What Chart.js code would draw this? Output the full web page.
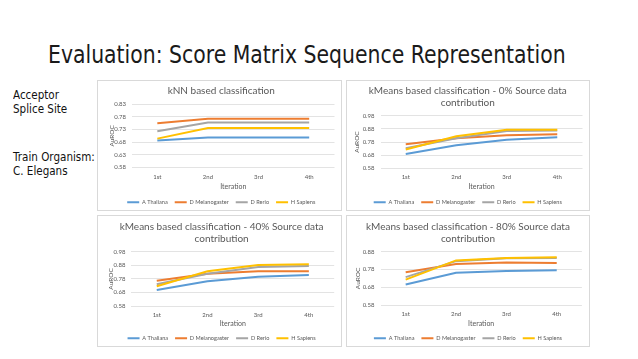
<!DOCTYPE html>
<html>
<head>
<meta charset="utf-8">
<script src="https://cdn.jsdelivr.net/npm/chart.js@4.4.1/dist/chart.umd.min.js"></script>
<style>
html,body{margin:0;padding:0;background:#fff;width:638px;height:359px;overflow:hidden;}
#title{position:absolute;left:48px;top:40px;font-family:"DejaVu Sans",sans-serif;font-size:24px;color:#1a1a1a;white-space:nowrap;line-height:30px;display:inline-block;transform-origin:0 0;}
.side{position:absolute;left:13px;font-family:"DejaVu Sans",sans-serif;font-size:12.5px;line-height:14px;color:#111;white-space:nowrap;transform:scaleX(0.83);transform-origin:0 0;}
.panel{position:absolute;border:1px solid #d9d9d9;box-sizing:border-box;background:#fff;}
canvas{position:absolute;}
</style>
</head>
<body>
<div id="title">Evaluation: Score Matrix Sequence Representation</div>
<div class="side" style="top:88px">Acceptor<br>Splice Site</div>
<div class="side" style="top:150px">Train Organism:<br>C. Elegans</div>

<div class="panel" style="left:97px;top:80px;width:245px;height:131px"></div>
<div class="panel" style="left:346px;top:80px;width:244px;height:131px"></div>
<div class="panel" style="left:97px;top:215px;width:245px;height:132px"></div>
<div class="panel" style="left:346px;top:215px;width:244px;height:132px"></div>

<canvas id="c1"></canvas>
<canvas id="c2"></canvas>
<canvas id="c3"></canvas>
<canvas id="c4"></canvas>

<script>
// ---- data ----
const categories = ['1st', '2nd', '3rd', '4th'];
const seriesNames = ['A Thaliana', 'D Melanogaster', 'D Rerio', 'H Sapiens'];

// kNN based classification
const knnAThaliana     = [0.687, 0.698, 0.698, 0.698];
const knnDMelanogaster = [0.755, 0.773, 0.773, 0.773];
const knnDRerio        = [0.723, 0.758, 0.758, 0.758];
const knnHSapiens      = [0.694, 0.736, 0.736, 0.736];

// kMeans 0% source data contribution
const km0AThaliana     = [0.690, 0.755, 0.797, 0.816];
const km0DMelanogaster = [0.763, 0.808, 0.832, 0.840];
const km0DRerio        = [0.733, 0.808, 0.863, 0.868];
const km0HSapiens      = [0.723, 0.824, 0.874, 0.874];

// kMeans 40% source data contribution
const km40AThaliana     = [0.698, 0.762, 0.795, 0.808];
const km40DMelanogaster = [0.767, 0.818, 0.836, 0.836];
const km40DRerio        = [0.741, 0.818, 0.867, 0.875];
const km40HSapiens      = [0.726, 0.836, 0.882, 0.887];

// kMeans 80% source data contribution
const km80AThaliana     = [0.696, 0.762, 0.772, 0.776];
const km80DMelanogaster = [0.764, 0.811, 0.819, 0.817];
const km80DRerio        = [0.737, 0.827, 0.843, 0.845];
const km80HSapiens      = [0.723, 0.831, 0.845, 0.849];

// y tick labels
const knnTicks  = [0.58, 0.63, 0.68, 0.73, 0.78, 0.83];
const km0Ticks  = [0.58, 0.68, 0.78, 0.88, 0.98];
const km40Ticks = [0.58, 0.68, 0.78, 0.88, 0.98];
const km80Ticks = [0.58, 0.63, 0.68, 0.73, 0.78, 0.83, 0.88];

const chartTitles = [
  'kNN based classification',
  ['kMeans based classification - 0% Source data', 'contribution'],
  ['kMeans based classification - 40% Source data', 'contribution'],
  ['kMeans based classification - 80% Source data', 'contribution']
];
const xTitle = 'Iteration';
const yTitle = 'AuROC';

// ---- slide title width fit ----
(function () {
  const t = document.getElementById('title');
  const natural = t.scrollWidth;
  t.style.transform = 'scaleX(' + (518 / natural) + ')';
})();

// ---- styles / layout ----
const seriesColors = ['#5B9BD5', '#ED7D31', '#A5A5A5', '#FFC000'];
const textColor = '#595959';
Chart.defaults.font.family = 'Lato, "Liberation Sans", sans-serif';

const layouts = [
  {id:'c1', left:97,  top:80,  w:245, h:135, padL:11, padR:7.5, yW:24,   yTPad:-0.2, tPadT:5.15, tPadB:7.45, xH:25,   xTickPad:5.7, xTPadB:1.8},
  {id:'c2', left:346, top:80,  w:244, h:135, padL:7,  padR:7.5, yW:27.5, yTPad:0.4,  tPadT:5.15, tPadB:7.15, xH:24,   xTickPad:4.7, xTPadB:1.8},
  {id:'c3', left:97,  top:215, w:245, h:136, padL:12, padR:7.8, yW:22.4, yTPad:-2.2, tPadT:5.85, tPadB:7.45, xH:22.3, xTickPad:5.7, xTPadB:0.1},
  {id:'c4', left:346, top:215, w:244, h:136, padL:8,  padR:8.1, yW:26.5, yTPad:0.4,  tPadT:5.85, tPadB:7.45, xH:23.3, xTickPad:5.4, xTPadB:0.8}
];

const chartSeries = [
  [knnAThaliana, knnDMelanogaster, knnDRerio, knnHSapiens],
  [km0AThaliana, km0DMelanogaster, km0DRerio, km0HSapiens],
  [km40AThaliana, km40DMelanogaster, km40DRerio, km40HSapiens],
  [km80AThaliana, km80DMelanogaster, km80DRerio, km80HSapiens]
];
const chartTicks = [knnTicks, km0Ticks, km40Ticks, km80Ticks];

function makeChart(i) {
  const L = layouts[i];
  const ticks = chartTicks[i];
  const cv = document.getElementById(L.id);
  cv.width = L.w; cv.height = L.h;
  cv.style.left = L.left + 'px'; cv.style.top = L.top + 'px';
  cv.style.width = L.w + 'px'; cv.style.height = L.h + 'px';
  const datasets = chartSeries[i].map((arr, k) => ({
    label: seriesNames[k],
    data: arr,
    borderColor: seriesColors[k],
    backgroundColor: seriesColors[k],
    borderWidth: 2,
    pointRadius: 0,
    tension: 0,
    fill: false,
    order: 4 - k
  }));
  new Chart(cv, {
    type: 'line',
    data: { labels: categories, datasets },
    options: {
      responsive: false,
      animation: false,
      devicePixelRatio: 1,
      layout: { padding: { left: L.padL, right: L.padR, top: 0, bottom: 0 } },
      plugins: {
        title: {
          display: true, text: chartTitles[i], color: textColor,
          font: { size: 10, weight: 'normal', lineHeight: 1.17 },
          padding: { top: L.tPadT, bottom: L.tPadB }
        },
        legend: {
          position: 'bottom',
          labels: {
            usePointStyle: true, pointStyle: 'line', pointStyleWidth: 12, boxHeight: 6,
            font: { size: 5.6 }, color: textColor, padding: 7,
            sort: (a, b) => a.datasetIndex - b.datasetIndex
          }
        },
        tooltip: { enabled: false }
      },
      scales: {
        x: {
          offset: true,
          grid: { display: false, drawTicks: false },
          border: { display: false },
          ticks: { color: textColor, font: { size: 6 }, padding: L.xTickPad, maxRotation: 0, autoSkip: false },
          title: { display: true, text: xTitle, color: textColor, font: { size: 7 }, padding: { top: 0, bottom: L.xTPadB } },
          afterFit: s => { s.height = L.xH; }
        },
        y: {
          min: ticks[0], max: ticks[ticks.length - 1],
          grid: { color: '#d9d9d9', lineWidth: 0.75, drawTicks: false },
          border: { display: false },
          ticks: { color: textColor, font: { size: 6 }, padding: 6, callback: v => Number(v).toFixed(2) },
          afterBuildTicks: s => { s.ticks = ticks.map(v => ({ value: v })); },
          title: { display: true, text: yTitle, color: textColor, font: { size: 6.5 }, padding: { top: L.yTPad, bottom: 0 } },
          afterFit: s => { s.width = L.yW; }
        }
      }
    }
  });
}
for (let i = 0; i < 4; i++) makeChart(i);
</script>
</body>
</html>
